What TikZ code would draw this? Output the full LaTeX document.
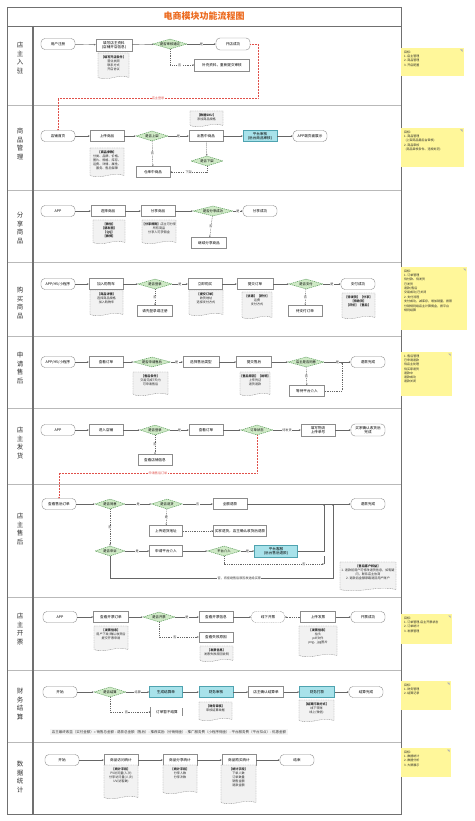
\documentclass[tikz,border=0pt]{standalone}
\usepackage{fontspec}
\setmainfont{Liberation Sans}
\newfontfamily\cjk{Noto Sans CJK SC}
\usetikzlibrary{shapes.geometric,arrows.meta}
\definecolor{lineg}{HTML}{666666}
\definecolor{boxb}{HTML}{8C8C8C}
\definecolor{diaf}{HTML}{CFEAC6}
\definecolor{diab}{HTML}{5B9B5B}
\definecolor{cyanf}{HTML}{A8E2EA}
\definecolor{cyanb}{HTML}{4FA3B0}
\definecolor{docf}{HTML}{F2F2F2}
\definecolor{notef}{HTML}{FFF79A}
\definecolor{redl}{HTML}{E0504A}
\definecolor{titlec}{HTML}{EC6A1E}
\definecolor{framec}{HTML}{707070}
\tikzset{
 base/.style={font=\cjk\fontsize{3.6}{4.3}\selectfont, inner sep=0.5pt, align=center},
 proc/.style={base, rectangle, draw=boxb, fill=white, line width=0.4pt, minimum width=34, minimum height=11},
 term/.style={proc, rounded corners=4},
 cyb/.style={proc, fill=cyanf, draw=cyanb},
 dia/.style={base, diamond, aspect=3.5, draw=diab, fill=diaf, line width=0.5pt, dash pattern=on 1.2pt off 0.8pt, minimum width=32, minimum height=10, inner sep=0pt, font=\cjk\fontsize{3.3}{3.8}\selectfont},
 lnk/.style={draw=lineg, line width=0.4pt, -{Stealth[length=1.8pt,width=1.5pt]}},
 dlnk/.style={lnk, dash pattern=on 1pt off 0.8pt},
 rlnk/.style={draw=redl, line width=0.5pt, dash pattern=on 0.7pt off 0.8pt, -{Stealth[length=2pt,width=1.6pt]}},
 lbl/.style={fill=white, inner sep=0.3pt, font=\cjk\fontsize{3.1}{3.5}\selectfont, text=black!80},
 docsty/.style={draw=boxb, fill=docf, line width=0.35pt, dash pattern=on 1pt off 0.7pt},
 doctxt/.style={font=\cjk\fontsize{3.1}{4}\selectfont, inner sep=0pt, align=center, text=black!85},
 notetxt/.style={font=\cjk\fontsize{3}{4.1}\selectfont, inner sep=0pt, align=left, anchor=north west, text=black!85},
 lane/.style={font=\cjk\fontsize{6.5}{8.7}\selectfont, align=center, text=black!80},
 divider/.style={draw=gray!55, line width=0.8pt},
}
\newcommand\mydoc[6]{%
  \pgfmathsetmacro\dw{#4-#2}%
  \pgfmathsetmacro\dyb{#5-2.5}%
  \pgfmathsetmacro\dca{#4-0.35*\dw}%
  \pgfmathsetmacro\dcb{#2+0.35*\dw}%
  \pgfmathsetmacro\dup{#5-7}%
  \pgfmathsetmacro\ddn{#5+2}%
  \path[docsty] (#2,#3) -- (#4,#3) -- (#4,\dyb) .. controls (\dca,\dup) and (\dcb,\ddn) .. (#2,\dyb) -- cycle;
  \pgfmathsetmacro\dxc{(#2+#4)/2}%
  \pgfmathsetmacro\dyt{#3+2.5}%
  \node[doctxt, anchor=north] (#1) at (\dxc,\dyt) {#6};}
\newcommand\mynote[6]{%
  \fill[notef] (#2,#3) rectangle (#4,#5);
  \pgfmathsetmacro\nfx{#4-4}%
  \pgfmathsetmacro\nfy{#3+1.5}%
  \fill[gray!60] (\nfx,\nfy) -- ++(2.5,0) -- ++(0,2.5) -- cycle;
  \pgfmathsetmacro\ntx{#2+3}%
  \pgfmathsetmacro\nty{#3+3}%
  \node[notetxt] (#1) at (\ntx,\nty) {#6};}
\begin{document}
\begin{tikzpicture}[x=1pt,y=-1pt]
\useasboundingbox (0,0) rectangle (474,821);
\fill[white] (0,0) rectangle (474,821);
% frame
\foreach \yy in {105,190,262,336,408,484,597,670,742}{\draw[divider] (7,\yy) -- (401,\yy);}
\draw[framec, line width=0.8pt] (7,26) -- (401,26);
\draw[framec, line width=1.3pt] (33,26) -- (33,814);
\draw[framec, line width=0.8pt] (7,7) rectangle (401,814);
\node[font=\cjk\bfseries\fontsize{9}{10}\selectfont, text=titlec] (title) at (204,16.5) {电商模块功能流程图};
% lane labels
\node[lane] (L1) at (20,58) {店\\主\\入\\驻};
\node[lane] (L2) at (20,144) {商\\品\\管\\理};
\node[lane] (L3) at (20,228) {分\\享\\商\\品};
\node[lane] (L4) at (20,303) {购\\买\\商\\品};
\node[lane] (L5) at (20,368) {申\\请\\售\\后};
\node[lane] (L6) at (20,443) {店\\主\\发\\货};
\node[lane] (L7) at (20,529) {店\\主\\售\\后};
\node[lane] (L8) at (20,629) {店\\主\\开\\票};
\node[lane] (L9) at (20,704) {财\\务\\结\\算};
\node[lane] (L10) at (20,777) {数\\据\\统\\计};

% ---------- lane 1
\node[term] (u1) at (58,44) {用户注册};
\node[proc, minimum width=36, minimum height=12] (u2) at (114,45) {填写店主资料\\(店铺开店信息)};
\mydoc{doc1}{98}{53}{129}{80}{\textbf{【填写开店条件】}\\营业执照\\联系方式\\开店协议};
\node[dia, minimum width=34] (d1) at (170,44) {是否审核通过};
\node[term, minimum height=12] (u3) at (233,44) {开店成功};
\node[proc, minimum width=55, minimum height=12] (u4) at (222,65) {补充资料，重新提交审核};
\draw[lnk] (u1) -- (u2);
\draw[lnk] (u2) -- (d1);
\draw[lnk] (d1) -- node[lbl]{是} (u3);
\draw[dlnk] (d1.south) |- node[lbl, pos=0.7]{否} (u4.west);
\coordinate (ra) at (258,98);
\coordinate (rb) at (58,98);
\draw[rlnk] (u3.east) -| (ra) -- node[lbl, text=redl]{店主登录} (rb) -- (58,131);

% ---------- lane 2
\node[term] (s1) at (58,136) {店铺首页};
\node[proc] (s2) at (107,136) {上传商品};
\mydoc{doc2}{90}{148}{124}{178}{\textbf{【商品参数】}\\分类、品牌、价格、\\图片、规格、库存、\\运费、详情、属性、\\服务、售后保障};
\node[dia] (d2) at (152,136) {是否上架};
\node[proc] (s3) at (206,136) {出售中商品};
\mydoc{doc3}{190}{111}{223}{128}{\textbf{【数据SKU】}\\添加商品规格};
\node[cyb] (s4) at (260,136) {平台审核\\(后台商品审核)};
\node[term] (s5) at (310,136) {APP端页面展示};
\node[dia] (d3) at (207,161) {是否下架};
\node[proc] (s6) at (153,172) {仓库中商品};
\draw[lnk] (s1) -- (s2);
\draw[lnk] (s2) -- (d2);
\draw[lnk] (d2) -- node[lbl]{是} (s3);
\draw[lnk] (s3) -- (s4);
\draw[lnk] (s4) -- (s5);
\draw[dlnk] (d2) -- node[lbl]{否} (s6);
\draw[dlnk] (s3) -- (d3);
\draw[dlnk] (d3.south) |- node[lbl, pos=0.75]{下架} (s6.east);

% ---------- lane 3
\node[term] (a1) at (58,211) {APP};
\node[proc] (a2) at (108,211) {选择商品};
\mydoc{doc4}{93}{220}{125}{245}{\textbf{【微信】}\\\textbf{【朋友圈】}\\\textbf{【QQ】}\\\textbf{【微博】}};
\node[proc] (a3) at (158,211) {分享商品};
\mydoc{doc5}{142}{220}{176}{245}{\textbf{【分享规则】}店主可分享\\所有商品\\分享人可获佣金};
\node[dia, minimum width=40] (d4) at (213,211) {是否分享成功};
\node[term] (a4) at (260,211) {分享成功};
\node[proc, minimum width=35] (a5) at (209,243) {继续分享商品};
\draw[lnk] (a1) -- (a2);
\draw[lnk] (a2) -- (a3);
\draw[lnk] (a3) -- (d4);
\draw[lnk] (d4) -- node[lbl]{是} (a4);
\draw[dlnk] (d4) -- node[lbl]{否} (a5);

% ---------- lane 4
\node[term] (b1) at (58,284) {APP/H5/小程序};
\node[proc] (b2) at (106,284) {加入购物车};
\mydoc{doc6}{90}{290}{123}{317}{\textbf{【商品详情】}\\选择商品规格\\加入购物车};
\node[dia, minimum width=34] (d5) at (155,284) {是否登录};
\node[proc, minimum width=35] (b3) at (155,311) {请先登录或注册};
\node[proc] (b4) at (205,284) {立即购买};
\mydoc{doc7}{189}{290}{223}{317}{\textbf{【提交订单】}\\收货地址\\选择支付方式};
\node[proc, minimum width=36] (b5) at (255,284) {提交订单};
\mydoc{doc8}{242}{292}{272}{320}{\textbf{【优惠】【积分】}\\运费\\支付方式};
\node[dia, minimum width=34] (d6) at (306,284) {是否支付};
\node[term] (b6) at (358,284) {支付成功};
\mydoc{doc9}{342}{293}{375}{320}{\textbf{【待发货】【分享】}\\\textbf{【待收货】}\\\textbf{【评价】【售后】}};
\node[proc] (b7) at (305,311) {待支付订单};
\draw[lnk] (b1) -- (b2);
\draw[lnk] (b2) -- (d5);
\draw[lnk] (d5) -- node[lbl]{是} (b4);
\draw[dlnk] (d5) -- node[lbl]{否} (b3);
\draw[lnk] (b4) -- (b5);
\draw[lnk] (b5) -- (d6);
\draw[lnk] (d6) -- node[lbl]{是} (b6);
\draw[dlnk] (d6) -- node[lbl]{否} (b7);

% ---------- lane 5
\node[term] (c1) at (58,362) {APP/H5/小程序};
\node[proc] (c2) at (106,362) {查看订单};
\node[dia, minimum width=37] (d7) at (152,362) {是否申请售后};
\mydoc{doc10}{133}{372}{168}{397}{\textbf{【售后条件】}\\交易完成7天内\\可申请售后};
\node[proc, minimum width=36] (c3) at (201,362) {选择售后类型};
\node[proc, minimum width=35] (c4) at (254,362) {提交售后};
\mydoc{doc11}{240}{372}{270}{397}{\textbf{【售后原因】【说明】}\\上传凭证\\退货退款};
\node[dia, minimum width=36] (d8) at (306,362) {店主是否同意};
\node[term] (c5) at (368,362) {退款完成};
\node[proc, minimum width=35] (c6) at (307,391) {等待平台介入};
\coordinate (cj) at (342,362);
\draw[lnk] (c1) -- (c2);
\draw[lnk] (c2) -- (d7);
\draw[lnk] (d7) -- node[lbl]{是} (c3);
\draw[lnk] (c3) -- (c4);
\draw[lnk] (c4) -- (d8);
\draw[lnk] (d8) -- node[lbl]{是} (c5);
\draw[dlnk] (d8) -- node[lbl]{否} (c6);
\draw[dlnk] (c6.east) -| (cj);

% ---------- lane 6
\node[term] (e1) at (58,430) {APP};
\node[proc] (e2) at (106,430) {进入店铺};
\node[dia, minimum width=30] (d9) at (155,430) {是否登录};
\node[proc] (e3) at (155,460) {查看店铺信息};
\node[proc] (e4) at (206,430) {查看订单};
\node[dia] (d10) at (257,430) {订单状态};
\node[proc, minimum height=12] (e5) at (318,430) {填写物流\\上传单号};
\node[term, minimum height=12] (e6) at (368,430) {买家确认收货后\\完成};
\draw[lnk] (e1) -- (e2);
\draw[lnk] (e2) -- (d9);
\draw[lnk] (d9) -- node[lbl]{是} (e4);
\draw[dlnk] (d9) -- node[lbl]{否} (e3);
\draw[lnk] (e4) -- (d10);
\draw[lnk] (d10) -- node[lbl]{待发货} (e5);
\draw[lnk] (e5) -- (e6);
\coordinate (rc) at (257,473);
\coordinate (rd) at (59,473);
\draw[rlnk] (d10.south) -- (rc) -- node[lbl, text=redl]{申请售后订单} (rd) -- (59,499);

% ---------- lane 7
\node[term] (f1) at (59,504) {查看售后订单};
\node[dia, minimum width=30] (d11) at (110,504) {是否同意};
\node[dia, minimum width=31] (d12) at (167,504) {是否退货};
\node[proc] (f2) at (230,504) {全额退款};
\node[term] (f3) at (368,504) {退款完成};
\node[proc, minimum width=33] (f4) at (166,531) {上传退货地址};
\node[proc, minimum width=53] (f5) at (240,531) {买家退货，店主确认收货后退款};
\node[dia, minimum width=30] (d13) at (110,551) {是否申诉};
\node[proc, minimum width=33] (f6) at (166,551) {申请平台介入};
\node[dia, minimum width=33] (d14) at (224,551) {平台介入};
\node[cyb, minimum width=43, minimum height=12] (f7) at (276,551) {平台客服\\(后台售后退款)};
\mydoc{doc12}{340}{562}{396}{592}{\textbf{【售后客户权益】}\\1. 退款前用户可修改退货信息，如有疑\\问，联系店主协商\\2. 退款后金额原路退回用户账户};
\coordinate (j1) at (324,504);
\coordinate (j2) at (324,564);
\coordinate (j3) at (333,504);
\coordinate (j4) at (110,578);
\coordinate (j5) at (333,578);
\draw[lnk] (f1) -- (d11);
\draw[lnk] (d11) -- node[lbl]{是} (d12);
\draw[lnk] (d12) -- node[lbl]{否} (f2);
\draw[lnk] (f2) -- (f3);
\draw[dlnk] (d12) -- node[lbl]{是} (f4);
\draw[dlnk] (f4) -- (f5);
\draw[dlnk] (d11) -- node[lbl]{否} (d13);
\draw[lnk] (d13) -- node[lbl]{是} (f6);
\draw[lnk] (f6) -- (d14);
\draw[lnk] (d14) -- node[lbl]{是} (f7);
\draw[lnk] (f7.east) -| (j1);
\draw[dlnk] (d14.south) |- node[lbl, pos=0.9]{否} (j2);
\draw[draw=lineg, line width=0.4pt] (j2) -- (324,556);
\draw[lnk] (d13.south) -- (j4) -- node[lbl, pos=0.58]{否，将拒绝售后原因发送给买家} (j5) -- (j3);

% ---------- lane 8
\node[term] (g1) at (60,617) {APP};
\node[proc, minimum width=35] (g2) at (111,617) {查看开票订单};
\mydoc{doc13}{94}{626}{128}{652}{\textbf{【发票信息】}\\用户下单/确认收货后\\提交开票申请};
\node[dia] (d15) at (159,617) {是否开票};
\node[proc] (g3) at (216,617) {查看开票信息};
\node[term, dash pattern=on 1pt off 0.8pt, minimum width=33] (g4) at (268,617) {线下开票};
\node[proc, minimum width=35] (g5) at (318,617) {上传发票};
\mydoc{doc14}{299}{626}{337}{658}{\textbf{【发票信息】}\\抬头\\pdf文件\\png、jpg图片};
\node[term] (g6) at (368,617) {开票成功};
\node[proc, minimum height=10] (g7) at (216,637) {查看失败原因};
\mydoc{doc15}{200}{646}{233}{663}{\textbf{【发票信息】}\\发票失败原因说明};
\draw[lnk] (g1) -- (g2);
\draw[lnk] (g2) -- (d15);
\draw[lnk] (d15) -- node[lbl]{是} (g3);
\draw[lnk] (g3) -- (g4);
\draw[dlnk] (g5) -- (g4);
\draw[lnk] (g5) -- (g6);
\draw[dlnk] (d15.south) |- node[lbl, pos=0.7]{否} (g7.west);

% ---------- lane 9
\node[term] (h1) at (60,692) {开始};
\node[dia] (d16) at (110,692) {是否结算};
\node[cyb, minimum width=33] (h2) at (166,692) {生成结算单};
\node[cyb] (h3) at (216,692) {财务审核};
\mydoc{doc16}{199}{702}{232}{722}{\textbf{【财务审核】}\\审核结算单据};
\node[proc, minimum width=35] (h4) at (266,692) {店主确认结算单};
\node[cyb, minimum width=35] (h5) at (317,692) {财务打款};
\mydoc{doc17}{299}{700}{334}{723}{\textbf{【结算打款方式】}\\线下转账\\线上(微信)};
\node[term] (h6) at (366,692) {结算完成};
\node[proc, double, double distance=0.7pt, minimum height=9, minimum width=32] (h7) at (167,712) {订单暂不结算};
\draw[lnk] (h1) -- (d16);
\draw[lnk] (d16) -- node[lbl]{结算} (h2);
\draw[lnk] (h2) -- (h3);
\draw[lnk] (h3) -- (h4);
\draw[lnk] (h4) -- (h5);
\draw[lnk] (h5) -- (h6);
\draw[dlnk] (d16.south) |- node[lbl, pos=0.7]{否} (h7.west);
\node[fill=gray!8, inner sep=1.5pt, font=\cjk\fontsize{3.5}{4}\selectfont, text=black!80] (formula) at (169,732) {店主最终收益（实付金额）= 销售总金额 - 退款总金额（售后）- 推荐奖励（分销佣金）- 推广服务费（小程序佣金）- 平台服务费（平台扣点）- 优惠金额};

% ---------- lane 10
\node[term] (k1) at (62,760) {开始};
\node[proc] (k2) at (121,760) {商品访问统计};
\mydoc{doc18}{104}{765}{138}{800}{\textbf{【统计字段】}\\PV访问量(人次)\\分享访问量(人次)\\UV(访客数)};
\node[proc] (k3) at (180,760) {商品分享统计};
\mydoc{doc19}{163}{765}{197}{795}{\textbf{【统计字段】}\\分享人数\\分享次数};
\node[proc] (k4) at (239,760) {商品购买统计};
\mydoc{doc20}{221}{765}{256}{805}{\textbf{【统计字段】}\\下单人数\\订单数量\\销售金额\\退款金额};
\node[term] (k5) at (297,760) {结束};
\draw[lnk] (k1) -- (k2);
\draw[lnk] (k2) -- (k3);
\draw[lnk] (k3) -- (k4);
\draw[lnk] (k4) -- (k5);

% ---------- notes
\mynote{n1}{401}{48}{464}{76}{目标：\\1.\ 店主管理\\2.\ 商品管理\\3.\ 开店配置};
\mynote{n2}{401}{128}{464}{167}{目标：\\1.\ 商品管理\\\ \ (上架商品需后台审核)\\2.\ 商品审核\\\ \ (商品审核条件、违规处罚)};
\mynote{n3}{401}{267}{467}{330}{目标：\\1.\ 订单管理\\待付款、待发货\\已发货\\退款/售后\\交易成功/已关闭\\[1.5pt]2.\ 支付流程\\支付成功，减库存，增加销量，按照\\分销规则给店主计算佣金，按平台\\规则结算};
\mynote{n4}{401}{352}{452}{396}{1.\ 售后管理\\已申请退款\\待店主处理\\待买家退货\\退款中\\退款成功\\退款关闭};
\mynote{n5}{401}{614}{452}{644}{目标：\\1.\ 订单管理-店主开票状态\\2.\ 订单统计\\3.\ 发票管理};
\mynote{n6}{401}{681}{451}{710}{目标：\\1.\ 财务管理\\2.\ 结算记录};
\mynote{n7}{401}{748}{451}{777}{目标：\\1.\ 数据统计\\2.\ 数据分析\\3.\ 大屏展示};
\end{tikzpicture}
\end{document}
